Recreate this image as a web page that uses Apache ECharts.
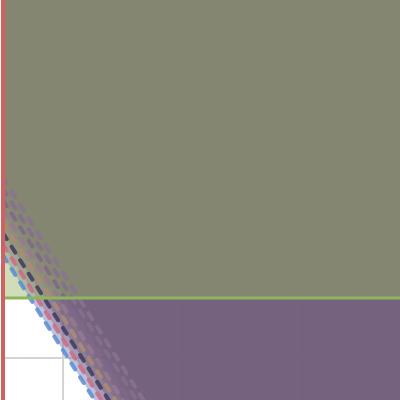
<!DOCTYPE html>
<html>
<head>
<meta charset="utf-8">
<script src="https://cdn.jsdelivr.net/npm/echarts@6/dist/echarts.min.js"></script>
<style>
  html, body { margin: 0; padding: 0; background: #fff; }
  #main { width: 400px; height: 400px; }
</style>
</head>
<body>
<div id="main"></div>
<script>
// x positions of the two ends of every diagonal line
var xEnds = [0, 7];

// diagonal series, listed from the one furthest right to the leftmost
var diagNames = ['h', 'g', 'f', 'e', 'd', 'c', 'b', 'a'];
var diagStart = [4.00, 3.82, 3.63, 3.45, 3.26, 3.08, 2.89, 2.71];
var diagEnd = [-7.06, -7.24, -7.43, -7.61, -7.80, -7.98, -8.17, -8.35];
var lineColors = ['#8a7290', '#84708c', '#7c6888', '#9a7890', '#b08a72', '#3f3a5c', '#cf6a86', '#5b8bd2'];
var fillColors = ['#8c6e87', '#7f6480', '#765a7a', '#7d5a7a', '#9a7650', '#35304a', '#b45a64', '#5a70a6'];

// horizontal level and vertical marker
var levelX = [0, 7];
var levelY = [2, 2];
var markerX = [0, 0];
var markerY = [-1, 8];

var myChart = echarts.init(document.getElementById('main'));

var series = [];
for (var i = 0; i < diagNames.length; i++) {
    series.push({
        name: diagNames[i],
        type: 'line',
        symbol: 'none',
        data: [[xEnds[0], diagStart[i]], [xEnds[1], diagEnd[i]]],
        lineStyle: {
            color: lineColors[i],
            width: 4,
            type: [7, 9],
            cap: 'round',
            opacity: 0.85
        },
        areaStyle: {
            origin: 'end',
            color: fillColors[i],
            opacity: 0.42
        }
    });
}

series.push({
    name: 'level',
    type: 'line',
    symbol: 'none',
    data: [[levelX[0], levelY[0]], [levelX[1], levelY[1]]],
    lineStyle: { color: '#8db65c', width: 3 },
    areaStyle: { origin: 'end', color: '#96b464', opacity: 0.45 }
});

series.push({
    name: 'marker',
    type: 'line',
    symbol: 'none',
    data: [[markerX[0], markerY[0]], [markerX[1], markerY[1]]],
    lineStyle: { color: '#d2605f', width: 4 }
});

var option = {
    backgroundColor: '#fff',
    animation: false,
    grid: { left: 3, top: -2, width: 420, height: 420, containLabel: false, outerBoundsMode: 'none' },
    xAxis: {
        type: 'value',
        min: 0,
        max: 7,
        interval: 1,
        axisLine: { show: false },
        axisTick: { show: false },
        axisLabel: { show: false },
        splitLine: { lineStyle: { color: '#d4d4d4', width: 2 } }
    },
    yAxis: {
        type: 'value',
        min: 0,
        max: 7,
        interval: 1,
        axisLine: { show: false },
        axisTick: { show: false },
        axisLabel: { show: false },
        splitLine: { lineStyle: { color: '#d4d4d4', width: 2 } }
    },
    series: series
};

myChart.setOption(option);
</script>
</body>
</html>
